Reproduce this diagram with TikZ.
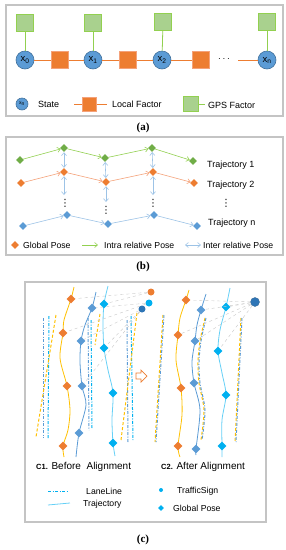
\documentclass[tikz,border=0pt]{standalone}
\usepackage{fontspec}
\setmainfont{Liberation Sans}
\newfontfamily\capfont{Liberation Serif}
\newfontfamily\dejavu{DejaVu Sans}
\usetikzlibrary{shapes.geometric,arrows.meta}
\definecolor{sblue}{HTML}{5B9BD5}
\definecolor{sbluedk}{HTML}{41719C}
\definecolor{sorange}{HTML}{ED7D31}
\definecolor{lorange}{HTML}{F4A27A}
\definecolor{sgreen}{HTML}{A9D18E}
\definecolor{dgreen}{HTML}{70AD47}
\definecolor{lgreen}{HTML}{92D050}
\definecolor{lblue}{HTML}{9DC3E6}
\definecolor{cyanb}{HTML}{00B0F0}
\definecolor{ylw}{HTML}{FFC000}
\definecolor{boxgray}{HTML}{C4C4C4}
\definecolor{signdk}{HTML}{2E75B6}
\tikzset{
  boxline/.style={draw=boxgray, line width=1.2pt},
  state/.style={circle, fill=sblue, draw=sbluedk, line width=0.6pt, minimum size=18pt, inner sep=0pt, font=\fontsize{9.5}{10}\selectfont},
  lfac/.style={rectangle, fill=sorange, draw=lorange, minimum size=17pt, inner sep=0pt},
  gps/.style={rectangle, fill=sgreen, draw=lgreen, minimum size=17pt, inner sep=0pt},
  lbl/.style={anchor=west, inner sep=0pt, font=\fontsize{9}{10}\selectfont},
  captxt/.style={font=\capfont\bfseries\fontsize{11}{12}\selectfont},
  vd/.style={inner sep=0pt, font=\dejavu\fontsize{10}{10}\selectfont},
  dg/.style={diamond, fill=dgreen, minimum size=8pt, inner sep=0pt},
  dor/.style={diamond, fill=sorange, minimum size=8pt, inner sep=0pt},
  dbl/.style={diamond, fill=sblue, minimum size=8pt, inner sep=0pt},
  tip/.style={-{Straight Barb[length=3pt,width=5pt]}, line width=0.6pt},
  dtip/.style={{Straight Barb[length=3pt,width=5pt]}-{Straight Barb[length=3pt,width=5pt]}, line width=0.6pt, draw=lblue},
  pd/.style={diamond, minimum size=9pt, inner sep=0pt},
  fan/.style={draw=gray!45, dashed, line width=0.4pt},
  trj/.style={line width=0.8pt},
  lanedd/.style={line width=1pt, dash pattern=on 3pt off 1.5pt on 1pt off 1.5pt},
  laneyl/.style={draw=ylw, line width=1pt, dash pattern=on 3pt off 2pt},
}
\begin{document}
\begin{tikzpicture}[x=1pt,y=-1pt]
\useasboundingbox (0,0) rectangle (286,550);
% ---------------- panel (a)
\draw[boxline] (6,5) rectangle (283,116);
\node[state] (s0) at (25,60) {x\textsubscript{0}};
\node[state] (s1) at (93,60) {x\textsubscript{1}};
\node[state] (s2) at (162,60) {x\textsubscript{2}};
\node[state] (sn) at (267,60) {x\textsubscript{n}};
\node[gps] (g0) at (25,23) {};
\node[gps] (g1) at (93,23) {};
\node[gps] (g2) at (163,22) {};
\node[gps] (gn) at (267,22) {};
\node[lfac] (f0) at (60,60) {};
\node[lfac] (f1) at (128,60) {};
\node[lfac] (f2) at (201,60) {};
\node[inner sep=0pt] (dots) at (224,59) {$\cdots$};
\coordinate (dr) at (238,60);
\foreach \g/\s in {g0/s0,g1/s1,g2/s2,gn/sn} \draw[lgreen, line width=0.8pt] (\g) -- (\s);
\draw[sorange, line width=0.8pt] (s0) -- (f0) -- (s1) -- (f1) -- (s2) -- (f2);
\draw[sorange, line width=0.8pt] (dr) -- (sn);
% legend (a)
\node[state, minimum size=12pt, font=\fontsize{5}{5}\selectfont] (ls) at (22,104) {x\textsubscript{n}};
\node[lbl] (lst) at (38,104) {State};
\coordinate (ll1) at (74,104);
\coordinate (ll2) at (107,104);
\draw[sorange, line width=0.8pt] (ll1) -- (ll2);
\node[lfac, minimum size=14pt] (lf) at (89,104) {};
\node[lbl] (llf) at (112,104) {Local Factor};
\node[gps, minimum size=15pt] (lg) at (191,104) {};
\coordinate (lg2) at (205,104);
\draw[lgreen, line width=0.8pt] (lg) -- (lg2);
\node[lbl] (lgt) at (208,105) {GPS Factor};
\node[captxt] (ca) at (143,128) {(a)};
% ---------------- panel (b)
\draw[boxline] (6,137) rectangle (283,255);
\foreach \i/\x/\y in {1/20/160,2/64/148,3/105/158,4/152/148,5/193/161} \node[dg] (g\i) at (\x,\y) {};
\foreach \i/\x/\y in {1/21/183,2/64/172,3/106/182,4/153/172,5/194/183} \node[dor] (o\i) at (\x,\y) {};
\foreach \i/\x/\y in {1/23/226,2/67/215,3/108/224,4/154/215,5/197/226} \node[dbl] (b\i) at (\x,\y) {};
\foreach \a/\b in {1/2,2/3,3/4,4/5} {
  \draw[tip, lgreen] (g\a) -- (g\b);
  \draw[tip, lorange] (o\a) -- (o\b);
  \draw[tip, lblue] (b\a) -- (b\b);
}
\draw[dtip] (g2) -- (o2);
\draw[dtip] (g3) -- (o3);
\draw[dtip] (g4) -- (o4);
\coordinate (e2) at (64,195);
\coordinate (e3) at (106,202);
\coordinate (e4) at (153,195);
\draw[dtip] (o2) -- (e2);
\draw[dtip] (o3) -- (e3);
\draw[dtip] (o4) -- (e4);
\node[vd] (v2) at (65,203) {⋮};
\node[vd] (v3) at (106,210) {⋮};
\node[vd] (v4) at (153,203) {⋮};
\node[vd] (v5) at (226,203) {⋮};
\node[lbl] (t1) at (207,165) {Trajectory 1};
\node[lbl] (t2) at (207,185) {Trajectory 2};
\node[lbl] (tn) at (208,223) {Trajectory n};
% legend (b)
\node[dor] (lgp) at (15,245) {};
\node[lbl, font=\fontsize{8.7}{10}\selectfont] (lgpt) at (23,245) {Global Pose};
\coordinate (la1) at (82,245);
\coordinate (la2) at (98,245);
\draw[tip, lgreen] (la1) -- (la2);
\node[lbl, font=\fontsize{8.7}{10}\selectfont] (lat) at (104,245) {Intra relative Pose};
\coordinate (lb1) at (185,245);
\coordinate (lb2) at (201,245);
\draw[dtip] (lb1) -- (lb2);
\node[lbl, font=\fontsize{8.7}{10}\selectfont] (lbt) at (203,245) {Inter relative Pose};
\node[captxt] (cb) at (143,267) {(b)};
% ---------------- panel (c)
\draw[boxline] (25,282) rectangle (266,522);
% lane lines, left (C1)
\draw[lanedd, sblue] (43,318) -- (43,438);
\draw[lanedd, cyanb] (49,316) -- (48,438);
\draw[laneyl] (56,315) -- (36,437);
\draw[lanedd, sblue] (88,318) -- (89,430);
\draw[lanedd, cyanb] (91,320) -- (92,428);
\draw[laneyl] (100,314) -- (95,345);
\draw[lanedd, sblue] (127,320) -- (128,442);
\draw[lanedd, cyanb] (131,316) -- (133,440);
\draw[laneyl] (137,313) -- (121,440);
% traffic signs left
\node[circle, fill=sorange, minimum size=7pt, inner sep=0pt] (ts1) at (151,292) {};
\node[circle, fill=cyanb, minimum size=7pt, inner sep=0pt] (ts2) at (149,303) {};
\node[circle, fill=signdk, minimum size=7pt, inner sep=0pt] (ts3) at (142,309) {};
% trajectories left
\draw[trj, ylw] plot[smooth] coordinates {(74,287) (71,299) (64,320) (63,333) (60,358) (67,386) (70,410) (68,430) (63,446) (64,457)};
\draw[trj, sblue] plot[smooth] coordinates {(96,292) (92,308) (85,325) (81,341) (80,362) (82,386) (86,405) (79,433) (76,457)};
\draw[trj, cyanb!60] plot[smooth] coordinates {(108,286) (104,304) (103,325) (104,348) (108,370) (113,393) (112,420) (113,443) (115,456)};
\foreach \i/\x/\y in {1/71/299,2/63/333,3/67/386,4/63/446} \node[pd, fill=sorange] (lo\i) at (\x,\y) {};
\foreach \i/\x/\y in {1/92/308,2/81/341,3/82/386,4/79/433} \node[pd, fill=sblue] (lb\i) at (\x,\y) {};
\foreach \i/\x/\y in {1/104/304,2/104/348,3/113/393,4/113/443} \node[pd, fill=cyanb] (lc\i) at (\x,\y) {};
\draw[fan] (ts1) -- (lo1);
\draw[fan] (ts1) -- (lc1);
\draw[fan] (ts2) -- (lb1);
\draw[fan] (ts2) -- (lo2);
\draw[fan] (ts3) -- (lb2);
\draw[fan] (ts3) -- (lc2);
\draw[fan] (ts3) -- (lb3);
% arrow
\draw[sorange, line width=0.7pt, fill=white] (136,373) -- (141,373) -- (141,370) -- (147,376) -- (141,382) -- (141,379) -- (136,379) -- cycle;
% lane lines, right (C2)
\draw[laneyl] (163,315) -- (155,442);
\draw[lanedd, sblue] (164,315) -- (156,442);
\draw[laneyl] plot[smooth] coordinates {(205,318) (200,341) (198,362) (199,383) (204,410) (201,440)};
\draw[lanedd, sblue] plot[smooth] coordinates {(206,318) (201,341) (199,362) (200,383) (205,410) (202,440)};
\draw[laneyl] (241,318) -- (235,442);
\draw[lanedd, sblue] (242,318) -- (236,442);
\node[circle, fill=signdk, draw=sbluedk, minimum size=9pt, inner sep=0pt] (rs) at (255,302) {};
\draw[trj, ylw] plot[smooth] coordinates {(189,290) (186,300) (180,318) (178,335) (176,360) (181,388) (182,415) (178,446) (180,457)};
\draw[trj, sblue] plot[smooth] coordinates {(206,294) (201,310) (197,325) (195,341) (192,362) (194,383) (200,410) (196,449) (196,455)};
\draw[trj, cyanb!60] plot[smooth] coordinates {(230,288) (226,307) (220,330) (218,351) (222,373) (226,395) (222,420) (222,446) (222,457)};
\foreach \i/\x/\y in {1/186/300,2/178/335,3/181/388,4/178/446} \node[pd, fill=sorange] (ro\i) at (\x,\y) {};
\foreach \i/\x/\y in {1/201/310,2/195/341,3/194/383,4/196/449} \node[pd, fill=sblue] (rb\i) at (\x,\y) {};
\foreach \i/\x/\y in {1/226/307,2/218/351,3/226/395,4/222/446} \node[pd, fill=cyanb] (rc\i) at (\x,\y) {};
\foreach \n in {ro1,rb1,rc1,ro2,rb2,rc2} \draw[fan] (rs) -- (\n);
% labels
\node[lbl, font=\fontsize{10}{12}\selectfont] (c1) at (36,467) {{\bfseries\fontsize{7.5}{9}\selectfont C1.} Before\ \ Alignment};
\node[lbl, font=\fontsize{10}{12}\selectfont] (c2) at (161,467) {{\bfseries\fontsize{7.5}{9}\selectfont C2.} After Alignment};
% legend (c)
\coordinate (ln1) at (48,491);
\coordinate (ln2) at (68,491);
\draw[lanedd, cyanb] (ln1) -- (ln2);
\node[lbl, font=\fontsize{8.7}{10}\selectfont] (lnt) at (86,491) {LaneLine};
\coordinate (lt1) at (48,505);
\coordinate (lt2) at (70,503);
\draw[trj, cyanb!60] (lt1) -- (lt2);
\node[lbl, font=\fontsize{8.7}{10}\selectfont] (ltt) at (83,504) {Trajectory};
\node[circle, fill=cyanb, minimum size=4pt, inner sep=0pt] (lts) at (161,490) {};
\node[lbl, font=\fontsize{8.7}{10}\selectfont] (ltst) at (177,491) {TrafficSign};
\node[diamond, fill=cyanb, minimum size=6pt, inner sep=0pt] (lgd) at (161,508) {};
\node[lbl, font=\fontsize{8.7}{10}\selectfont] (lgdt) at (173,508) {Global Pose};
\node[captxt] (cc) at (143,540) {(c)};
\end{tikzpicture}
\end{document}
